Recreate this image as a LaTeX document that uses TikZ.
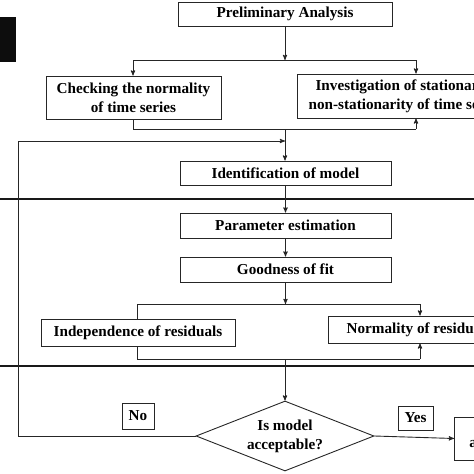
\documentclass[tikz,border=0pt]{standalone}
\usepackage{fontspec}
\setmainfont{Liberation Serif}
\usetikzlibrary{arrows}
\usetikzlibrary{calc}
\usetikzlibrary{shapes.geometric}

\begin{document}
\begin{tikzpicture}[x=1pt,y=-1pt,->,>=stealth',line width=0.9pt,draw=black!85,
                    font=\bfseries\fontsize{15.2}{19}\selectfont]
	\tikzstyle{blk}=[draw, rectangle, inner sep=0pt, align=center]
	\tikzstyle{sep}=[-, line width=1.8pt, black!90]
	\useasboundingbox (0,0) rectangle (474,474);
	\clip (0,0) rectangle (474,474);
	\fill[black!95] (0,17) rectangle (16,62);
	% boxes
	\node[blk, minimum width=214pt, minimum height=24pt] (pre) at (285,14) {Preliminary Analysis};
	\node[blk, minimum width=175pt, minimum height=43pt] (chk) at (133.5,97.5) {Checking the normality\\of time series};
	\node[blk, minimum width=217pt, minimum height=44pt] (inv) at (405.5,96) {Investigation of stationarity\\non-stationarity of time series};
	\node[blk, minimum width=211pt, minimum height=24pt] (idn) at (285.5,173) {Identification of model};
	\node[blk, minimum width=211pt, minimum height=25pt] (par) at (285.5,225.5) {Parameter estimation};
	\node[blk, minimum width=211pt, minimum height=25pt] (gof) at (285.5,269.5) {Goodness of fit};
	\node[blk, minimum width=194pt, minimum height=27pt] (ind) at (138,332.5) {Independence of residuals};
	\node[blk, minimum width=182pt, minimum height=27pt] (nor) at (419,329.5) {Normality of residuals};
	\node[draw, diamond, aspect=2.54, inner sep=0pt, minimum width=178pt, minimum height=70pt, align=center] (dec) at (285,436) {Is model\\acceptable?};
	\node[blk, minimum width=32pt, minimum height=26pt] (no) at (138,416) {No};
	\node[blk, minimum width=35pt, minimum height=24pt] (yes) at (415.5,418) {Yes};
	\node[draw, rectangle, anchor=west, inner xsep=15pt, inner ysep=0pt, text width=80pt, align=left, minimum height=43pt] (use) at (454,438.5) {\mbox{}\\a};
	% separators
	\draw[sep] (0,199) -- (474,199);
	\draw[sep] (0,366) -- (474,366);
	% junctions
	\coordinate (j1) at (285,60);
	\coordinate (a1) at (133,60);
	\coordinate (a2) at (416,60);
	\coordinate (b1) at (133,129);
	\coordinate (b2) at (416,129);
	\coordinate (j2) at (285,129);
	\coordinate (fb) at (285,141);
	\coordinate (lp) at (18,141);
	\coordinate (j3) at (285.5,304);
	\coordinate (c1) at (137,304);
	\coordinate (c2) at (420,304);
	\coordinate (d1) at (137,359);
	\coordinate (d2) at (420,359);
	\coordinate (j4) at (285,359);
	% connectors
	\draw (pre) -- (j1);
	\draw[-] (a1) -- (a2);
	\draw (a1) -- (a1 |- chk.north);
	\draw (a2) -- (a2 |- inv.north);
	\draw[-] (b1 |- chk.south) -- (b1) -- (b2);
	\draw (b2) -- (b2 |- inv.south);
	\draw (j2) -- (j2 |- idn.north);
	\draw[-] (dec.west) -- (lp |- dec.west) -- (lp);
	\draw (lp) -- (fb);
	\draw (idn) -- (par);
	\draw (par) -- (gof);
	\draw (gof) -- (j3);
	\draw[-] (c1) -- (c2);
	\draw[-] (c1) -- (c1 |- ind.north);
	\draw (c2) -- (c2 |- nor.north);
	\draw[-] (d1 |- ind.south) -- (d1) -- (d2);
	\draw (d2) -- (d2 |- nor.south);
	\draw (j4) -- (dec.north);
	\draw (dec.east) -- (use.west);
\end{tikzpicture}
\end{document}
